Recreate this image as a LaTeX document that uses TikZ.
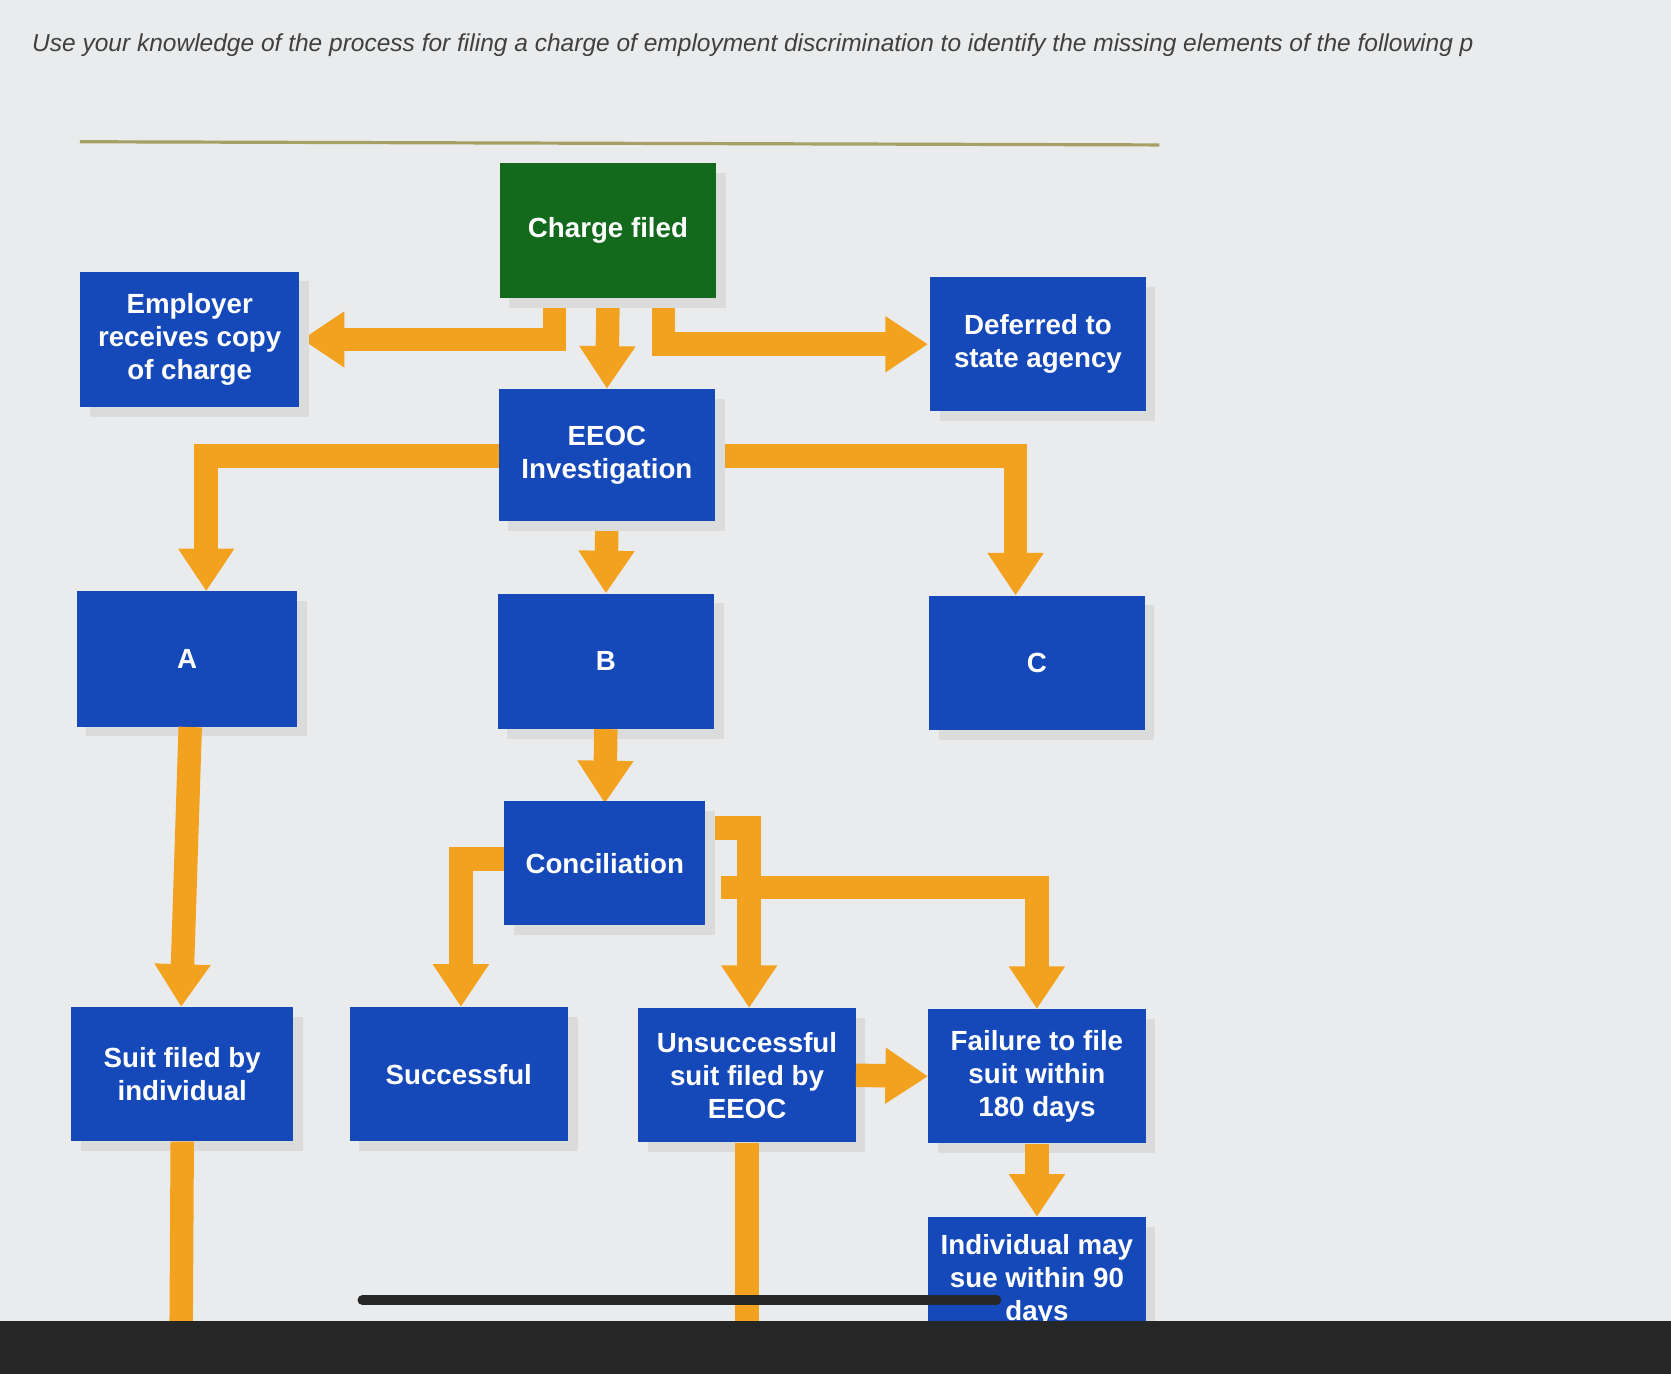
\documentclass[tikz,border=0pt]{standalone}
\usepackage{fontspec}
\setmainfont{Liberation Sans}
\usetikzlibrary{arrows.meta}
\definecolor{bx}{HTML}{1548B8}
\definecolor{gr}{HTML}{136A1C}
\definecolor{or}{HTML}{F2A21E}
\definecolor{bg}{HTML}{E9EBEC}
\begin{document}
\begin{tikzpicture}[x=1pt,y=-1pt,
 box/.style={fill=bx,text=white,font=\bfseries\fontsize{26}{31}\selectfont,align=center,inner sep=0pt},
 arr/.style={draw=or,line width=22pt,-{Triangle[width=50pt,length=40pt]}},
 ln/.style={draw=or,line width=22pt}]
\useasboundingbox (0,0) rectangle (1568,1289);
\fill[bg] (0,0) rectangle (1568,1289);
\node[anchor=west,text=black!75,font=\itshape\fontsize{23}{27}\selectfont,inner sep=0pt] (ttl) at (30,42) {Use your knowledge of the process for filing a charge of employment discrimination to identify the missing elements of the following p};
\draw[draw=black!35!olive!60,line width=3pt] (75,133) coordinate (l1) -- (1088,136) coordinate (l2);
% box macro-free definitions
\def\B#1#2#3#4#5#6#7{\fill[black!14] (#2+9,#3+9) rectangle (#4+9,#5+9);
 \node[box,fill=#7,minimum width=#4-#2,minimum height=#5-#3] (#1) at ({(#2+#4)/2},{(#3+#5)/2}) {#6};}
\B{cf}{469}{153}{672}{280}{Charge filed}{gr}
\B{emp}{75}{255}{281}{382}{Employer\\receives copy\\of charge}{bx}
\B{def}{873}{260}{1075}{386}{Deferred to\\state agency}{bx}
\B{eeoc}{468}{365}{671}{489}{EEOC\\Investigation}{bx}
\B{A}{72}{555}{279}{682}{A}{bx}
\B{Bb}{467}{557}{670}{684}{B}{bx}
\B{C}{872}{559}{1074}{685}{C}{bx}
\B{con}{473}{752}{662}{868}{Conciliation}{bx}
\B{sfi}{67}{945}{275}{1071}{Suit filed by\\individual}{bx}
\B{suc}{328}{945}{533}{1071}{Successful}{bx}
\B{uns}{599}{946}{803}{1072}{Unsuccessful\\suit filed by\\EEOC}{bx}
\B{fail}{871}{947}{1075}{1073}{Failure to file\\suit within\\180 days}{bx}
\B{ind}{871}{1142}{1075}{1260}{Individual may\\sue within 90\\days}{bx}
\coordinate (e1) at (170,1245);
\coordinate (e2) at (701,1245);
% arrows
\begin{scope}[on background layer/.style={}]
\end{scope}
\draw[arr] ([xshift=-50pt]cf.south) |- ([xshift=2pt]emp.east);
\draw[arr] (cf.south) -- (eeoc.north);
\draw[arr] ([xshift=52pt]cf.south) |- ([xshift=-2pt]def.west);
\draw[arr] ([yshift=-1pt]eeoc.west) -| ([xshift=18pt]A.north);
\draw[arr] ([yshift=-1pt]eeoc.east) -| ([xshift=-20pt]C.north);
\draw[arr] (eeoc.south) -- (Bb.north);
\draw[arr] (Bb.south) -- ([yshift=-2pt]con.north);
\draw[arr] ([yshift=4pt]con.west) -| ([xshift=2pt]suc.north);
\draw[arr] ([yshift=33pt]con.east) -| ([xshift=2pt]uns.north);
\draw[arr] ([yshift=-23pt,xshift=14pt]con.east) -| (fail.north);
\draw[arr] ([xshift=3pt]A.south) -- ([xshift=-1pt]sfi.north);
\draw[arr] (uns.east) -- (fail.west);
\draw[arr] (fail.south) -- (ind.north);
\draw[ln] (sfi.south) -- (e1);
\draw[ln] (uns.south) -- (e2);
% redraw boxes over arrows
\B{cf}{469}{153}{672}{280}{Charge filed}{gr}
\B{emp}{75}{255}{281}{382}{Employer\\receives copy\\of charge}{bx}
\B{eeoc}{468}{365}{671}{489}{EEOC\\Investigation}{bx}
\B{con}{473}{752}{662}{868}{Conciliation}{bx}
\fill[black!85] (0,1240) rectangle (1568,1289);
\draw[line width=9pt,line cap=round,black!85] (340,1220) coordinate (h1) -- (935,1220) coordinate (h2);
\end{tikzpicture}
\end{document}
